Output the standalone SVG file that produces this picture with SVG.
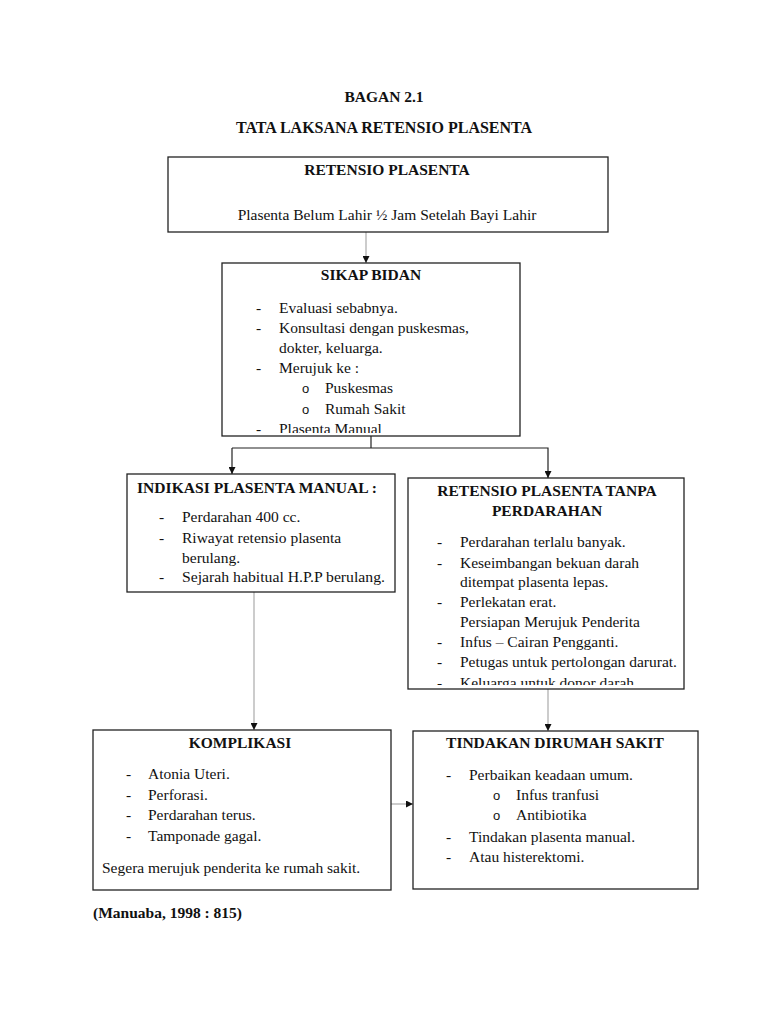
<svg xmlns="http://www.w3.org/2000/svg" width="768" height="1024" viewBox="0 0 768 1024">
<style>
text{font-family:"Liberation Serif","Times New Roman",serif;font-size:15.5px;fill:#111}
.b{font-weight:bold}
.c{text-anchor:middle}
.t{font-size:16px}
.o{font-family:"Liberation Sans",Arial,sans-serif;font-size:13px}
.box{fill:#fff;stroke:#222;stroke-width:1.3}
.ln{fill:none;stroke:#222;stroke-width:1.2}
.lg{fill:none;stroke:#aaa;stroke-width:1.2}
</style>
<defs>
<marker id="ah" viewBox="0 0 10 10" refX="10" refY="5" markerWidth="7" markerHeight="7" markerUnits="userSpaceOnUse" orient="auto">
<path d="M0,0 L10,5 L0,10 Z" fill="#111"/>
</marker>
<clipPath id="c2"><rect x="222" y="263" width="298" height="170"/></clipPath>
<clipPath id="c4"><rect x="408" y="478" width="276" height="207"/></clipPath>
</defs>
<rect width="768" height="1024" fill="#fff"/>
<text class="b c" x="384" y="102">BAGAN 2.1</text>
<text class="b c t" x="384" y="133">TATA LAKSANA RETENSIO PLASENTA</text>

<g id="connectors">
<line class="lg" x1="366" y1="232" x2="366" y2="263" marker-end="url(#ah)"/>
<polyline class="ln" points="371,436 371,448"/>
<polyline class="ln" points="232,448 548,448 548,478" marker-end="url(#ah)"/>
<line class="ln" x1="232" y1="448" x2="232" y2="474" marker-end="url(#ah)"/>
<line class="lg" x1="254" y1="592" x2="254" y2="730" marker-end="url(#ah)"/>
<line class="lg" x1="548" y1="689" x2="548" y2="731" marker-end="url(#ah)"/>
<line class="lg" x1="391" y1="804" x2="413" y2="804" marker-end="url(#ah)"/>
</g>

<g id="retensio">
<rect class="box" x="168" y="157" width="440" height="75"/>
<text class="b c" x="387" y="175">RETENSIO PLASENTA</text>
<text class="c" x="387" y="220">Plasenta Belum Lahir ½ Jam Setelah Bayi Lahir</text>
</g>

<g id="sikap">
<rect class="box" x="222" y="263" width="298" height="173"/>
<text class="b c" x="371" y="280">SIKAP BIDAN</text>
<g clip-path="url(#c2)">
<text x="256" y="313">-</text><text x="279" y="313">Evaluasi sebabnya.</text>
<text x="256" y="333">-</text><text x="279" y="333">Konsultasi dengan puskesmas,</text>
<text x="279" y="353">dokter, keluarga.</text>
<text x="256" y="373">-</text><text x="279" y="373">Merujuk ke :</text>
<text class="o" x="302" y="393">o</text><text x="325" y="393">Puskesmas</text>
<text class="o" x="302" y="414">o</text><text x="325" y="414">Rumah Sakit</text>
<text x="256" y="434">-</text><text x="279" y="434">Plasenta Manual</text>
</g>
</g>

<g id="indikasi">
<rect class="box" x="127" y="474" width="268" height="118"/>
<text class="b" x="137" y="493" textLength="240" lengthAdjust="spacingAndGlyphs">INDIKASI PLASENTA MANUAL :</text>
<text x="159" y="522">-</text><text x="182" y="522">Perdarahan 400 cc.</text>
<text x="159" y="543">-</text><text x="182" y="543">Riwayat retensio plasenta</text>
<text x="182" y="563">berulang.</text>
<text x="159" y="582">-</text><text x="182" y="582" textLength="203" lengthAdjust="spacingAndGlyphs">Sejarah habitual H.P.P berulang.</text>
</g>

<g id="tanpa">
<rect class="box" x="408" y="478" width="276" height="211"/>
<text class="b c" x="547" y="496">RETENSIO PLASENTA TANPA</text>
<text class="b c" x="547" y="516">PERDARAHAN</text>
<g clip-path="url(#c4)">
<text x="437" y="547">-</text><text x="460" y="547">Perdarahan terlalu banyak.</text>
<text x="437" y="568">-</text><text x="460" y="568">Keseimbangan bekuan darah</text>
<text x="460" y="587">ditempat plasenta lepas.</text>
<text x="437" y="607">-</text><text x="460" y="607">Perlekatan erat.</text>
<text x="460" y="627">Persiapan Merujuk Penderita</text>
<text x="437" y="647">-</text><text x="460" y="647">Infus – Cairan Pengganti.</text>
<text x="437" y="667">-</text><text x="460" y="667">Petugas untuk pertolongan darurat.</text>
<text x="437" y="688">-</text><text x="460" y="688">Keluarga untuk donor darah</text>
</g>
</g>

<g id="komplikasi">
<rect class="box" x="93" y="730" width="298" height="160"/>
<text class="b c" x="240" y="748">KOMPLIKASI</text>
<text x="126" y="779">-</text><text x="148" y="779">Atonia Uteri.</text>
<text x="126" y="800">-</text><text x="148" y="800">Perforasi.</text>
<text x="126" y="820">-</text><text x="148" y="820">Perdarahan terus.</text>
<text x="126" y="841">-</text><text x="148" y="841">Tamponade gagal.</text>
<text x="102" y="873">Segera merujuk penderita ke rumah sakit.</text>
</g>

<g id="tindakan">
<rect class="box" x="413" y="731" width="285" height="158"/>
<text class="b c" x="555" y="748">TINDAKAN DIRUMAH SAKIT</text>
<text x="446" y="780">-</text><text x="469" y="780">Perbaikan keadaan umum.</text>
<text class="o" x="493" y="800">o</text><text x="516" y="800">Infus tranfusi</text>
<text class="o" x="493" y="820">o</text><text x="516" y="820">Antibiotika</text>
<text x="446" y="842">-</text><text x="469" y="842">Tindakan plasenta manual.</text>
<text x="446" y="862">-</text><text x="469" y="862">Atau histerektomi.</text>
</g>

<text class="b" x="93" y="918">(Manuaba, 1998 : 815)</text>
</svg>
